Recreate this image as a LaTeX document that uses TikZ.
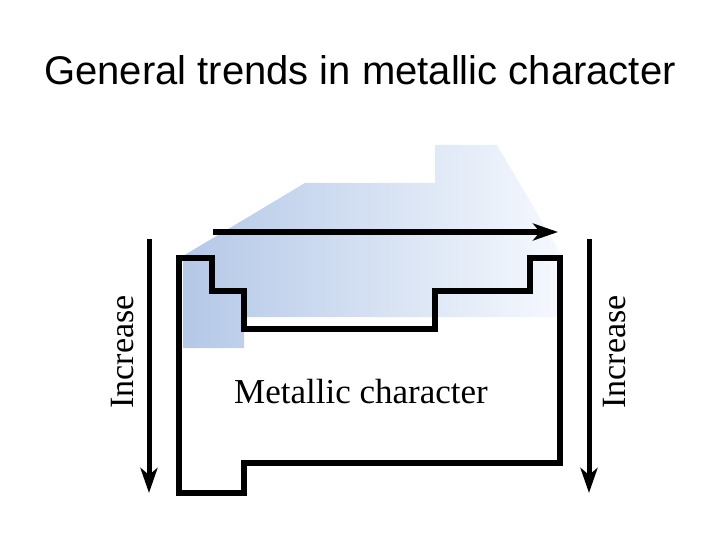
\documentclass[tikz,border=0pt]{standalone}
\usepackage{fontspec}
\setmainfont{Liberation Serif}
\newfontfamily\titlefont{Liberation Sans}
\usetikzlibrary{arrows.meta}
\definecolor{metaldark}{RGB}{180,200,231}
\definecolor{metallight}{RGB}{246,249,254}
\begin{document}
\begin{tikzpicture}[x=1pt, y=-1pt,
	trend/.style={line width=5pt, -{Stealth[length=25pt, width=17pt, inset=7pt]}},
	outline/.style={line width=6pt, line join=miter},
	sidelabel/.style={rotate=90, anchor=base, font=\fontsize{34}{37}\selectfont}]
	\useasboundingbox (0, 0) rectangle (720, 540);
	\node[anchor=base, font=\titlefont\fontsize{40}{44}\selectfont] (title) at (360, 85) {General trends in metallic character};

	\shade[left color=metaldark, right color=metallight] (183, 256) -- (305, 183) -- (435, 183) -- (435, 145) -- (497, 145) -- (563, 257) -- (563, 317) -- (244, 317) -- (244, 348) -- (183, 348) -- cycle;

	\draw[outline] (179, 258) -- (212, 258) -- (212, 291) -- (244, 291) -- (244, 329) -- (435, 329) -- (435, 291) -- (530, 291) -- (530, 258) -- (560, 258) -- (560, 463) -- (244, 463) -- (244, 493) -- (179, 493) -- cycle;
	\node[anchor=base, font=\fontsize{35}{38}\selectfont] (metal) at (361, 403) {Metallic character};

	\coordinate (rowstart) at (213, 232);
	\coordinate (rowend) at (558, 232);
	\coordinate (lefttop) at (149, 239);
	\coordinate (leftbottom) at (149, 493);
	\coordinate (righttop) at (589, 239);
	\coordinate (rightbottom) at (589, 493);
	\draw[trend] (rowstart) -- (rowend);
	\draw[trend] (lefttop) -- (leftbottom);
	\draw[trend] (righttop) -- (rightbottom);

	\node[sidelabel] (leftinc) at (133, 352) {Increase};
	\node[sidelabel] (rightinc) at (625, 352) {Increase};
\end{tikzpicture}
\end{document}
